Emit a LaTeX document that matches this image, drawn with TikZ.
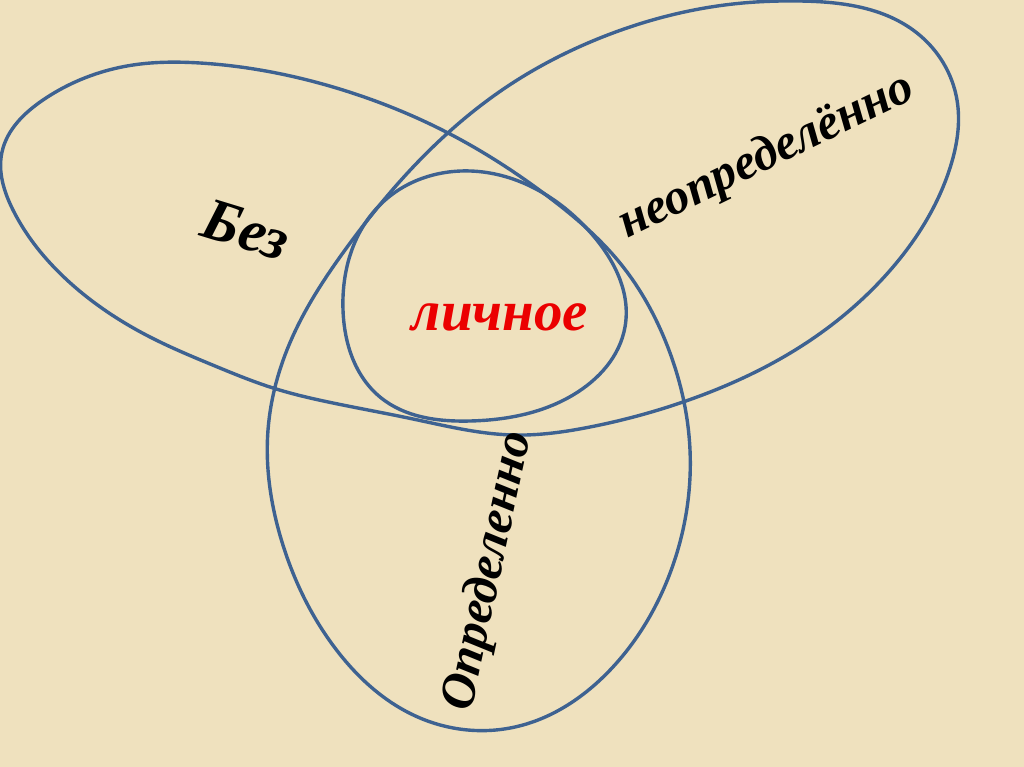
\documentclass[tikz,border=0pt]{standalone}
\usepackage{fontspec}
\setmainfont{Liberation Serif}
\usetikzlibrary{positioning,hobby}

\definecolor{paper}{RGB}{239,225,190}
\definecolor{loopblue}{RGB}{62,98,145}
\definecolor{wordred}{RGB}{235,0,0}

\begin{document}
\begin{tikzpicture}[x=1pt, y=-1pt,
  loop line/.style={draw=loopblue, line width=3.4pt},
  word/.style={inner sep=0pt, font=\bfseries\itshape\fontsize{50}{50}\selectfont}]
% Background
\fill[paper] (0,0) rectangle (1024,767);
\useasboundingbox (0,0) rectangle (1024,767);

% Three-lobed curve
\draw[loop line, use Hobby shortcut, closed=true]
  (2,152) .. (43,100) .. (133,65) .. (200,63) .. (333,87)
  .. (450,134) .. (550,198) .. (620,263) .. (667,345) .. (690,450)
  .. (673,565) .. (612,668) .. (515,727) .. (420,718) .. (335,648)
  .. (282,542) .. (268,430) .. (292,338) .. (345,250) .. (415,165)
  .. (505,88) .. (600,38) .. (733,4) .. (800,1) .. (917,33)
  .. (957,100) .. (950,168) .. (893,267) .. (800,347) .. (683,402)
  .. (590,427) .. (513,435) .. (413,419) .. (333,403) .. (273,388)
  .. (215,366) .. (150,337) .. (67,280) .. (13,210);

% Inner circle
\draw[loop line, use Hobby shortcut, closed=true]
  (483,172) .. (590,232) .. (625,327) .. (573,395) .. (470,421)
  .. (380,397) .. (343,310) .. (383,202);

% Labels
\node[word, font=\bfseries\itshape\fontsize{60}{60}\selectfont, rotate=-17] (bez) at (246,230) {Без};
\node[word, font=\bfseries\itshape\fontsize{57}{57}\selectfont, text=wordred, anchor=base] (lichnoe) at (500,330) {личное};
\node[word, rotate=26, anchor=base] (neopr) at (772,168) {неопределённо};
\node[word, rotate=78, anchor=base] (opr) at (501,574) {Определенно};
\end{tikzpicture}
\end{document}
